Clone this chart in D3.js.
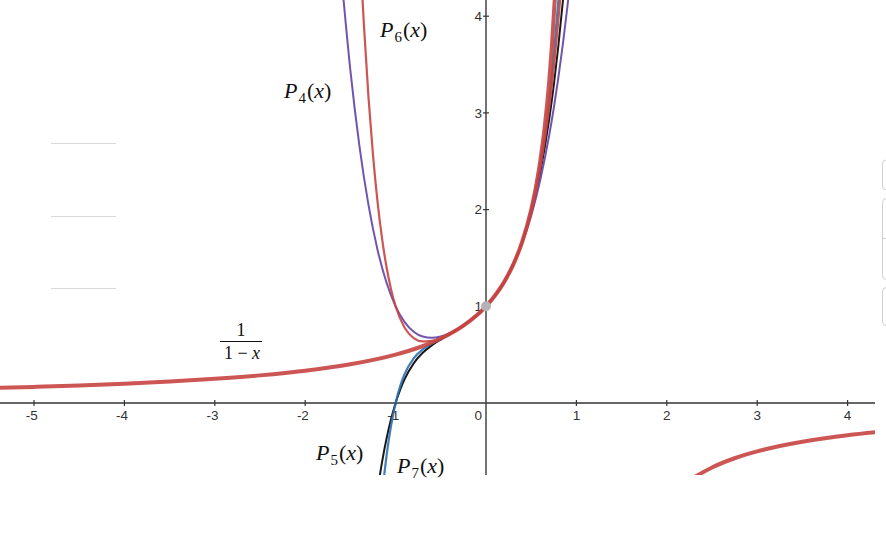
<!DOCTYPE html>
<html>
<head>
<meta charset="utf-8">
<script src="https://cdn.jsdelivr.net/npm/d3@7"></script>
<style>
    html, body { margin: 0; padding: 0; background: #fff; }
    svg { display: block; }
    .tick-label { font-family: Arial, "Liberation Sans", sans-serif; font-size: 13.5px; fill: #333; }
    .math { font-family: "Liberation Serif", "DejaVu Serif", serif; fill: #111; }
</style>
</head>
<body>
<svg id="graph" width="886" height="548"></svg>
<script>

// Values
const recipX = [-5.4, -5, -4.5, -4, -3.5, -3, -2.5, -2, -1.5, -1, -0.75, -0.5, -0.25, 0, 0.1, 0.2, 0.3, 0.4, 0.5, 0.55, 0.6, 0.65, 0.7, 0.73, 0.76, 0.78];
const recipY = [0.15625, 0.16667, 0.18182, 0.2, 0.22222, 0.25, 0.28571, 0.33333, 0.4, 0.5, 0.57143, 0.66667, 0.8, 1, 1.11111, 1.25, 1.42857, 1.66667, 2, 2.22222, 2.5, 2.85714, 3.33333, 3.7037, 4.16667, 4.54545];

const recipRightX = [2.3, 2.5, 2.75, 3, 3.25, 3.5, 3.75, 4, 4.4];
const recipRightY = [-0.76923, -0.66667, -0.57143, -0.5, -0.44444, -0.4, -0.36364, -0.33333, -0.29412];

const p4X = [-1.6, -1.5, -1.4, -1.3, -1.2, -1.1, -1, -0.9, -0.8, -0.7, -0.6, -0.5, -0.4, -0.3, -0.2, 0, 0.2, 0.4, 0.5, 0.6, 0.7, 0.75, 0.8, 0.85, 0.9, 0.92];
const p4Y = [4.4176, 3.4375, 2.6576, 2.0491, 1.5856, 1.2431, 1, 0.8371, 0.7376, 0.6871, 0.6736, 0.6875, 0.7216, 0.7711, 0.8336, 1, 1.2496, 1.6496, 1.9375, 2.3056, 2.7731, 3.05078, 3.3616, 3.70863, 4.0951, 4.26148];

const p5X = [-1.18, -1.15, -1.1, -1.05, -1, -0.95, -0.9, -0.8, -0.7, -0.6, -0.5, -0.4, -0.3, -0.2, 0, 0.2, 0.4, 0.5, 0.6, 0.7, 0.75, 0.8, 0.85, 0.87];
const p5Y = [-0.77961, -0.61073, -0.36741, -0.1659, 0, 0.13585, 0.24661, 0.40992, 0.51903, 0.59584, 0.65625, 0.71136, 0.76867, 0.83328, 1, 1.24992, 1.65984, 1.96875, 2.38336, 2.94117, 3.28808, 3.68928, 4.15233, 4.35672];

const p6X = [-1.37, -1.35, -1.3, -1.25, -1.2, -1.15, -1.1, -1.05, -1, -0.9, -0.8, -0.7, -0.6, -0.5, -0.4, -0.3, -0.2, 0, 0.2, 0.4, 0.5, 0.6, 0.7, 0.75, 0.8, 0.82, 0.85];
const p6Y = [4.244, 3.903, 3.163, 2.56372, 2.08326, 1.70234, 1.40415, 1.1742, 1, 0.77805, 0.67206, 0.63668, 0.6425, 0.67188, 0.71546, 0.7694, 0.83334, 1, 1.24998, 1.66394, 1.98438, 2.43002, 3.05882, 3.46606, 3.95142, 4.17063, 4.52949];

const p7X = [-1.14, -1.12, -1.1, -1.05, -1, -0.95, -0.9, -0.8, -0.7, -0.6, -0.5, -0.4, -0.3, -0.2, 0, 0.2, 0.4, 0.5, 0.6, 0.7, 0.75, 0.8, 0.82];
const p7Y = [-0.86569, -0.69621, -0.54457, -0.2329, 0, 0.17261, 0.29975, 0.46235, 0.55433, 0.6145, 0.66406, 0.71382, 0.76918, 0.83333, 1, 1.25, 1.66557, 1.99219, 2.45801, 3.14117, 3.59955, 4.16114, 4.41992];

const xTicks = [-5, -4, -3, -2, -1, 1, 2, 3, 4];
const yTicks = [1, 2, 3, 4];

// Graph paper
const plot = { width: 875, height: 475, originX: 486, originY: 403, unitX: 90.4, unitY: 96.7 };

const d3svg = d3.select('#graph');

const xScale = d3.scaleLinear()
    .domain([-plot.originX / plot.unitX, (plot.width - plot.originX) / plot.unitX])
    .range([0, plot.width]);
const yScale = d3.scaleLinear()
    .domain([(plot.originY - plot.height) / plot.unitY, plot.originY / plot.unitY])
    .range([plot.height, 0]);

d3svg.append('defs').append('clipPath').attr('id', 'clip')
    .append('rect').attr('width', plot.width).attr('height', plot.height);

// Leftover separators of the expression list
d3svg.append('g').selectAll('line').data([143.5, 216.5, 288.5]).enter().append('line')
    .attr('x1', 51).attr('x2', 116)
    .attr('y1', (d) => d).attr('y2', (d) => d)
    .attr('stroke', '#d9d9d9').attr('stroke-width', 1);

// Zoom buttons peeking in on the right
let buttons = d3svg.append('g').attr('fill', '#fff').attr('stroke', '#cfcfcf').attr('stroke-width', 1);
buttons.append('rect').attr('x', 882.5).attr('y', 160).attr('width', 20).attr('height', 30).attr('rx', 4);
buttons.append('rect').attr('x', 882.5).attr('y', 198.5).attr('width', 20).attr('height', 81).attr('rx', 4);
buttons.append('line').attr('x1', 883).attr('x2', 886).attr('y1', 238.5).attr('y2', 238.5);
buttons.append('rect').attr('x', 882.5).attr('y', 287.5).attr('width', 20).attr('height', 38).attr('rx', 4);

// Axes
let axes = d3svg.append('g').attr('stroke', '#333').attr('stroke-width', 1.5);
axes.append('line')
    .attr('x1', 0).attr('x2', plot.width)
    .attr('y1', yScale(0)).attr('y2', yScale(0));
axes.append('line')
    .attr('x1', xScale(0)).attr('x2', xScale(0))
    .attr('y1', 0).attr('y2', plot.height)
    .attr('stroke', '#444');

axes.selectAll('.xtick').data(xTicks).enter().append('line')
    .attr('class', 'xtick')
    .attr('x1', (d) => xScale(d)).attr('x2', (d) => xScale(d))
    .attr('y1', yScale(0) - 3).attr('y2', yScale(0) + 3)
    .attr('stroke-width', 1.2);
axes.selectAll('.ytick').data(yTicks).enter().append('line')
    .attr('class', 'ytick')
    .attr('y1', (d) => yScale(d)).attr('y2', (d) => yScale(d))
    .attr('x1', xScale(0) - 3).attr('x2', xScale(0) + 3)
    .attr('stroke-width', 1.2);

let labels = d3svg.append('g').attr('class', 'tick-label');
labels.selectAll('.xl').data(xTicks).enter().append('text')
    .attr('class', 'xl')
    .attr('x', (d) => d < 0 ? xScale(d) + 3.7 : xScale(d))
    .attr('y', yScale(0) + 17)
    .attr('text-anchor', (d) => d < 0 ? 'end' : 'middle')
    .text((d) => d < 0 ? '-' + Math.abs(d) : d);
labels.selectAll('.yl').data(yTicks).enter().append('text')
    .attr('class', 'yl')
    .attr('x', xScale(0) - 4)
    .attr('y', (d) => yScale(d) + 4.7)
    .attr('text-anchor', 'end')
    .text((d) => d);
labels.append('text')
    .attr('x', xScale(0) - 4).attr('y', yScale(0) + 17)
    .attr('text-anchor', 'end').text('0');

// Curves
let d3line = d3.line()
    .curve(d3.curveMonotoneX)
    .x((p) => xScale(p[0]))
    .y((p) => yScale(p[1]));

const zip = (xs, ys) => xs.map((x, i) => [x, ys[i]]);

let curves = d3svg.append('g').attr('clip-path', 'url(#clip)').attr('fill', 'none')
    .attr('stroke-linejoin', 'round').attr('stroke-linecap', 'round');
[
    { pts: zip(p5X, p5Y), color: '#000000', width: 2 },
    { pts: zip(p7X, p7Y), color: '#2d70b3', width: 2.2 },
    { pts: zip(p4X, p4Y), color: '#6042a6', width: 2 },
    { pts: zip(p6X, p6Y), color: '#c74440', width: 2.2 },
    { pts: zip(recipX, recipY), color: '#c74440', width: 4 },
    { pts: zip(recipRightX, recipRightY), color: '#c74440', width: 4 }
].forEach((c) => {
    curves.append('path')
        .datum(c.pts)
        .attr('d', d3line)
        .attr('stroke', c.color)
        .attr('stroke-width', c.width)
        .attr('stroke-opacity', 0.9);
});

// Point at (0, 1)
d3svg.append('circle')
    .attr('cx', xScale(0)).attr('cy', yScale(1)).attr('r', 5)
    .attr('fill', '#b4b4b4');

// Function labels
function polyLabel(x, y, n) {
    let t = d3svg.append('text').attr('class', 'math').attr('x', x).attr('y', y).attr('font-size', 22);
    t.append('tspan').attr('font-style', 'italic').text('P');
    t.append('tspan').attr('font-size', 15).attr('dy', 5).attr('dx', 1).text(n);
    t.append('tspan').attr('dy', -5).attr('dx', 1).text('(');
    t.append('tspan').attr('font-style', 'italic').text('x');
    t.append('tspan').text(')');
}
polyLabel(380, 37, 6);
polyLabel(284, 98, 4);
polyLabel(316, 460, 5);
polyLabel(397, 473, 7);

let frac = d3svg.append('g').attr('class', 'math').attr('font-size', 18);
frac.append('text').attr('x', 241).attr('y', 336).attr('text-anchor', 'middle').text('1');
frac.append('line').attr('x1', 220).attr('x2', 262).attr('y1', 341.5).attr('y2', 341.5)
    .attr('stroke', '#111').attr('stroke-width', 1);
let den = frac.append('text').attr('x', 242).attr('y', 359).attr('text-anchor', 'middle');
den.append('tspan').text('1 \u2212 ');
den.append('tspan').attr('font-style', 'italic').text('x');

</script>
</body>
</html>
